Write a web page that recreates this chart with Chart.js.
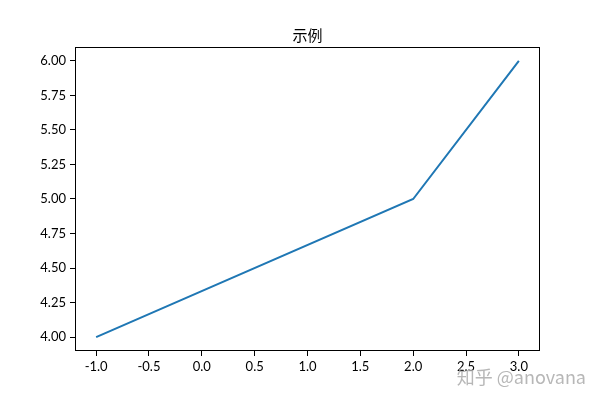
<!DOCTYPE html>
<html>
<head>
<meta charset="utf-8">
<script src="https://cdn.jsdelivr.net/npm/chart.js@4"></script>
<style>
    html, body { margin: 0; padding: 0; background: #fff; }
    #wrap { width: 600px; height: 400px; }
</style>
</head>
<body>
<div id="wrap"><canvas id="lineChart"></canvas></div>
<script>
// Chart data
const xValues = [-1, 2, 3];
const yValues = [4, 5, 6];
const xTicks = [-1.0, -0.5, 0.0, 0.5, 1.0, 1.5, 2.0, 2.5, 3.0];
const yTicks = [4.00, 4.25, 4.50, 4.75, 5.00, 5.25, 5.50, 5.75, 6.00];
const chartTitle = '示例';
const watermark = '知乎 @anovana';

const tickFont = { family: 'Lato, "Noto Sans CJK SC", sans-serif', size: 13 };

// Draws the axes frame, title and watermark
const framePlugin = {
    id: 'frame',
    afterDraw(chart) {
        const ctx = chart.ctx;
        const a = chart.chartArea;
        ctx.save();
        ctx.strokeStyle = '#000';
        ctx.lineWidth = 1;
        ctx.strokeRect(a.left + 0.5, a.top + 0.5, a.right - a.left - 1, a.bottom - a.top - 1);

        ctx.fillStyle = '#000';
        ctx.font = '15px "Noto Sans CJK SC", sans-serif';
        ctx.textAlign = 'center';
        ctx.textBaseline = 'middle';
        ctx.fillText(chartTitle, (a.left + a.right) / 2, 35);

        ctx.fillStyle = 'rgba(170, 170, 170, 0.85)';
        ctx.font = '18px "Noto Sans CJK SC", sans-serif';
        ctx.textAlign = 'right';
        ctx.fillText(watermark, 586, 377);
        ctx.restore();
    }
};

const ctx = document.getElementById('lineChart').getContext('2d');

new Chart(ctx, {
    type: 'line',
    data: {
        datasets: [{
            data: xValues.map((x, i) => ({ x: x, y: yValues[i] })),
            borderColor: '#1f77b4',
            borderWidth: 2,
            pointRadius: 0,
            tension: 0,
            fill: false
        }]
    },
    options: {
        responsive: true,
        maintainAspectRatio: false,
        animation: false,
        layout: {
            padding: { left: 0, right: 60, top: 47, bottom: 0 }
        },
        plugins: {
            legend: { display: false },
            title: { display: false },
            tooltip: { enabled: false }
        },
        scales: {
            x: {
                type: 'linear',
                min: -1.2,
                max: 3.2,
                afterBuildTicks: scale => { scale.ticks = xTicks.map(v => ({ value: v })); },
                afterFit: scale => { scale.height = 49; },
                grid: {
                    drawOnChartArea: false,
                    drawTicks: true,
                    tickLength: 5,
                    color: '#000'
                },
                border: { display: false },
                ticks: {
                    color: '#000',
                    font: tickFont,
                    padding: 3,
                    maxRotation: 0,
                    callback: v => v.toFixed(1)
                }
            },
            y: {
                min: 3.9,
                max: 6.1,
                afterBuildTicks: scale => { scale.ticks = yTicks.map(v => ({ value: v })); },
                afterFit: scale => { scale.width = 75; },
                grid: {
                    drawOnChartArea: false,
                    drawTicks: true,
                    tickLength: 5,
                    color: '#000'
                },
                border: { display: false },
                ticks: {
                    color: '#000',
                    font: tickFont,
                    padding: 4,
                    callback: v => v.toFixed(2)
                }
            }
        }
    },
    plugins: [framePlugin]
});
</script>
</body>
</html>
